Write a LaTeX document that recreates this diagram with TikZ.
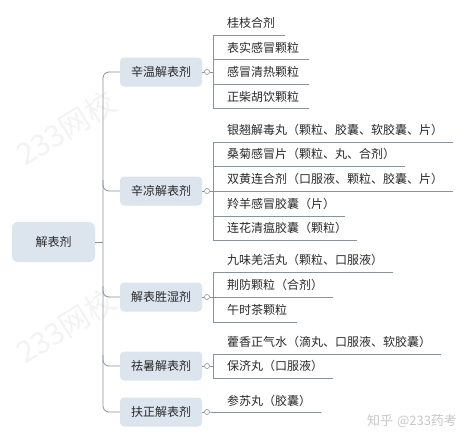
\documentclass[tikz,border=0pt]{standalone}
\usepackage{fontspec}
\newfontfamily\cjk{Noto Sans CJK SC}
\definecolor{boxfill}{HTML}{DCE4EE}
\definecolor{lncol}{HTML}{8A939C}
\definecolor{txt}{HTML}{2A2A2A}
\definecolor{wm}{HTML}{C8C8C8}
\definecolor{wm2}{HTML}{F3F3F3}
\tikzset{
  ln/.style={draw=lncol, line width=0.8pt},
  rootbox/.style={fill=boxfill, rounded corners=6pt, minimum width=83pt, minimum height=40pt, inner sep=0pt, text=txt, font=\cjk\fontsize{12}{14}\selectfont},
  catbox/.style={fill=boxfill, rounded corners=4pt, minimum width=82pt, minimum height=29pt, inner sep=0pt, text=txt, font=\cjk\fontsize{12}{14}\selectfont},
  leaf/.style={anchor=base west, inner sep=0pt, text=txt, font=\cjk\fontsize{12}{14}\selectfont},
  knob/.style={circle, draw=lncol, fill=white, line width=0.6pt, minimum size=5pt, inner sep=0pt},
  wmark/.style={text=wm2, font=\cjk\fontsize{30}{32}\selectfont, rotate=32}
}
\begin{document}
\begin{tikzpicture}[x=1pt,y=-1pt]
\useasboundingbox (0,0) rectangle (474,440);
\fill[white] (0,0) rectangle (474,440);
% faint watermarks
\node[wmark] (w1) at (66,128) {233网校};
\node[wmark] (w2) at (66,326) {233网校};
% root
\node[rootbox] (root) at (53.5,242) {解表剂};
% categories
\node[catbox] (k1) at (161,72) {辛温解表剂};
\node[catbox] (k2) at (161,191) {辛凉解表剂};
\node[catbox] (k3) at (161,297) {解表胜湿剂};
\node[catbox] (k4) at (161,366) {祛暑解表剂};
\node[catbox] (k5) at (161,412) {扶正解表剂};
% trunk
\coordinate (tj) at (103,242);
\draw[ln] (root.east) -- (tj);
\draw[ln, rounded corners=6pt] (k1.west) -| (103,90) -- (103,395) |- (k5.west);
\draw[ln, rounded corners=6pt] (103,180) |- (k2.west);
\draw[ln, rounded corners=6pt] (103,286) |- (k3.west);
\draw[ln, rounded corners=6pt] (103,355) |- (k4.west);
% knobs
\node[knob] (o1) at (207,72) {};
\node[knob] (o2) at (207,191) {};
\node[knob] (o3) at (207,297) {};
\node[knob] (o4) at (207,366) {};
\node[knob] (o5) at (207,412) {};
\foreach \i in {1,...,5} {\draw[ln] (k\i.east) -- (o\i.west);}
% group 1
\coordinate (b1) at (213,72);
\draw[ln] (o1.east) -- (b1);
\node[leaf] (a1) at (227,27.5) {桂枝合剂};
\node[leaf] (a2) at (227,52) {表实感冒颗粒};
\node[leaf] (a3) at (227,76.5) {感冒清热颗粒};
\node[leaf] (a4) at (227,101) {正柴胡饮颗粒};
\coordinate (ua1) at (213,35);
\coordinate (ua2) at (213,59.5);
\coordinate (ua3) at (213,84);
\coordinate (ua4) at (213,108.5);
\draw[ln] (ua1) -- (ua4);
\foreach \i in {1,...,4} {\draw[ln] (ua\i) -- ([xshift=10pt]a\i.east |- ua\i);}
% group 2
\coordinate (b2) at (213,191);
\draw[ln] (o2.east) -- (b2);
\node[leaf] (c1) at (227,134.5) {银翘解毒丸（颗粒、胶囊、软胶囊、片）};
\node[leaf] (c2) at (227,158.5) {桑菊感冒片（颗粒、丸、合剂）};
\node[leaf] (c3) at (227,183.5) {双黄连合剂（口服液、颗粒、胶囊、片）};
\node[leaf] (c4) at (227,208.5) {羚羊感冒胶囊（片）};
\node[leaf] (c5) at (227,232.5) {连花清瘟胶囊（颗粒）};
\coordinate (uc1) at (213,142);
\coordinate (uc2) at (213,166);
\coordinate (uc3) at (213,191);
\coordinate (uc4) at (213,216);
\coordinate (uc5) at (213,240);
\draw[ln] (uc1) -- (uc5);
\foreach \i in {1,...,5} {\draw[ln] (uc\i) -- ([xshift=10pt]c\i.east |- uc\i);}
% group 3
\coordinate (b3) at (213,297);
\draw[ln] (o3.east) -- (b3);
\node[leaf] (d1) at (227,264.5) {九味羌活丸（颗粒、口服液）};
\node[leaf] (d2) at (227,289.5) {荆防颗粒（合剂）};
\node[leaf] (d3) at (227,314.5) {午时茶颗粒};
\coordinate (ud1) at (213,272);
\coordinate (ud2) at (213,297);
\coordinate (ud3) at (213,322);
\draw[ln] (ud1) -- (ud3);
\foreach \i in {1,...,3} {\draw[ln] (ud\i) -- ([xshift=10pt]d\i.east |- ud\i);}
% group 4
\coordinate (b4) at (213,366);
\draw[ln] (o4.east) -- (b4);
\node[leaf] (e1) at (227,346.5) {藿香正气水（滴丸、口服液、软胶囊）};
\node[leaf] (e2) at (227,370.5) {保济丸（口服液）};
\coordinate (ue1) at (213,354);
\coordinate (ue2) at (213,378);
\draw[ln] (ue1) -- (ue2);
\foreach \i in {1,2} {\draw[ln] (ue\i) -- ([xshift=10pt]e\i.east |- ue\i);}
% group 5
\node[leaf] (f1) at (227,405) {参苏丸（胶囊）};
\coordinate (uf1) at (213,412.5);
\draw[ln] (o5.east) -- (uf1) -- ([xshift=10pt]f1.east |- uf1);
% credit watermark
\node[text=wm, font=\cjk\fontsize{13}{15}\selectfont, inner sep=0pt] (credit) at (412,421) {知乎\hspace{4pt}@233药考};
\end{tikzpicture}
\end{document}
